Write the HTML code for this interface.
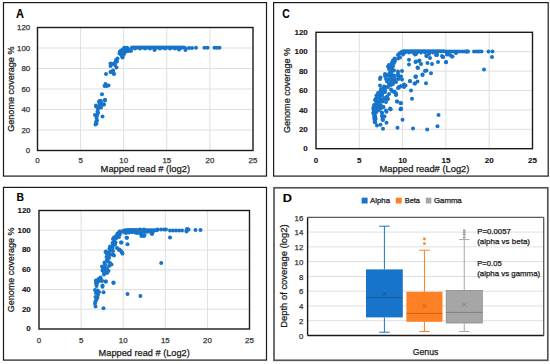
<!DOCTYPE html>
<html><head><meta charset="utf-8"><style>
html,body{margin:0;padding:0;background:#fff;width:550px;height:364px;overflow:hidden}
svg{display:block;font-family:"Liberation Sans",sans-serif}
</style></head><body>
<svg width="550" height="364" viewBox="0 0 550 364">
<rect width="550" height="364" fill="#fff"/>

<rect x="3.5" y="2.6" width="263" height="173.5" fill="none" stroke="#1a1a1a" stroke-width="1.2"/>
<rect x="273.6" y="2.6" width="274.6" height="173.5" fill="none" stroke="#1a1a1a" stroke-width="1.2"/>
<rect x="3.5" y="187.4" width="263" height="172.7" fill="none" stroke="#1a1a1a" stroke-width="1.2"/>
<rect x="274" y="187.8" width="273.8" height="172.5" fill="none" stroke="#555" stroke-width="1.7"/>
<text x="16" y="17.6" font-size="11.9" font-weight="bold" fill="#000" stroke="#000" stroke-width="0.1" textLength="8" lengthAdjust="spacingAndGlyphs">A</text>
<text x="282.3" y="17.9" font-size="12.3" font-weight="bold" fill="#000" stroke="#000" stroke-width="0.1" textLength="7.5" lengthAdjust="spacingAndGlyphs">C</text>
<text x="16.4" y="200.5" font-size="11.6" font-weight="bold" fill="#000" stroke="#000" stroke-width="0.1" textLength="7.5" lengthAdjust="spacingAndGlyphs">B</text>
<text x="282.8" y="201.9" font-size="11" font-weight="bold" fill="#000" stroke="#000" stroke-width="0.1" textLength="9.2" lengthAdjust="spacingAndGlyphs">D</text>
<line x1="80.60" y1="27.5" x2="80.60" y2="150.5" stroke="#dfdfdf" stroke-width="1"/>
<line x1="123.70" y1="27.5" x2="123.70" y2="150.5" stroke="#dfdfdf" stroke-width="1"/>
<line x1="166.80" y1="27.5" x2="166.80" y2="150.5" stroke="#dfdfdf" stroke-width="1"/>
<line x1="209.90" y1="27.5" x2="209.90" y2="150.5" stroke="#dfdfdf" stroke-width="1"/>
<line x1="37.5" y1="130.00" x2="253" y2="130.00" stroke="#dfdfdf" stroke-width="1"/>
<line x1="37.5" y1="109.50" x2="253" y2="109.50" stroke="#dfdfdf" stroke-width="1"/>
<line x1="37.5" y1="89.00" x2="253" y2="89.00" stroke="#dfdfdf" stroke-width="1"/>
<line x1="37.5" y1="68.50" x2="253" y2="68.50" stroke="#dfdfdf" stroke-width="1"/>
<line x1="37.5" y1="48.00" x2="253" y2="48.00" stroke="#dfdfdf" stroke-width="1"/>
<rect x="37.5" y="27.5" width="215.5" height="123.0" fill="none" stroke="#1a1a1a" stroke-width="1.4"/>
<text x="30.2" y="153.20" font-size="7.9" text-anchor="end" fill="#333" stroke="#333" stroke-width="0.25">0</text>
<text x="30.2" y="132.70" font-size="7.9" text-anchor="end" fill="#333" stroke="#333" stroke-width="0.25">20</text>
<text x="30.2" y="112.20" font-size="7.9" text-anchor="end" fill="#333" stroke="#333" stroke-width="0.25">40</text>
<text x="30.2" y="91.70" font-size="7.9" text-anchor="end" fill="#333" stroke="#333" stroke-width="0.25">60</text>
<text x="30.2" y="71.20" font-size="7.9" text-anchor="end" fill="#333" stroke="#333" stroke-width="0.25">80</text>
<text x="30.2" y="50.70" font-size="7.9" text-anchor="end" fill="#333" stroke="#333" stroke-width="0.25">100</text>
<text x="30.2" y="30.20" font-size="7.9" text-anchor="end" fill="#333" stroke="#333" stroke-width="0.25">120</text>
<text x="37.50" y="163.4" font-size="7.9" text-anchor="middle" fill="#333" stroke="#333" stroke-width="0.25">0</text>
<text x="80.60" y="163.4" font-size="7.9" text-anchor="middle" fill="#333" stroke="#333" stroke-width="0.25">5</text>
<text x="123.70" y="163.4" font-size="7.9" text-anchor="middle" fill="#333" stroke="#333" stroke-width="0.25">10</text>
<text x="166.80" y="163.4" font-size="7.9" text-anchor="middle" fill="#333" stroke="#333" stroke-width="0.25">15</text>
<text x="209.90" y="163.4" font-size="7.9" text-anchor="middle" fill="#333" stroke="#333" stroke-width="0.25">20</text>
<text x="253.00" y="163.4" font-size="7.9" text-anchor="middle" fill="#333" stroke="#333" stroke-width="0.25">25</text>
<line x1="359.30" y1="32.3" x2="359.30" y2="148.7" stroke="#dfdfdf" stroke-width="1"/>
<line x1="402.60" y1="32.3" x2="402.60" y2="148.7" stroke="#dfdfdf" stroke-width="1"/>
<line x1="445.90" y1="32.3" x2="445.90" y2="148.7" stroke="#dfdfdf" stroke-width="1"/>
<line x1="489.20" y1="32.3" x2="489.20" y2="148.7" stroke="#dfdfdf" stroke-width="1"/>
<line x1="316" y1="129.30" x2="532.5" y2="129.30" stroke="#dfdfdf" stroke-width="1"/>
<line x1="316" y1="109.90" x2="532.5" y2="109.90" stroke="#dfdfdf" stroke-width="1"/>
<line x1="316" y1="90.50" x2="532.5" y2="90.50" stroke="#dfdfdf" stroke-width="1"/>
<line x1="316" y1="71.10" x2="532.5" y2="71.10" stroke="#dfdfdf" stroke-width="1"/>
<line x1="316" y1="51.70" x2="532.5" y2="51.70" stroke="#dfdfdf" stroke-width="1"/>
<rect x="316" y="32.3" width="216.5" height="116.39999999999999" fill="none" stroke="#1a1a1a" stroke-width="1.4"/>
<text x="307.8" y="151.30" font-size="8" text-anchor="end" font-weight="bold" fill="#111" stroke="#111" stroke-width="0.1">0</text>
<text x="307.8" y="131.90" font-size="8" text-anchor="end" font-weight="bold" fill="#111" stroke="#111" stroke-width="0.1">20</text>
<text x="307.8" y="112.50" font-size="8" text-anchor="end" font-weight="bold" fill="#111" stroke="#111" stroke-width="0.1">40</text>
<text x="307.8" y="93.10" font-size="8" text-anchor="end" font-weight="bold" fill="#111" stroke="#111" stroke-width="0.1">60</text>
<text x="307.8" y="73.70" font-size="8" text-anchor="end" font-weight="bold" fill="#111" stroke="#111" stroke-width="0.1">80</text>
<text x="307.8" y="54.30" font-size="8" text-anchor="end" font-weight="bold" fill="#111" stroke="#111" stroke-width="0.1">100</text>
<text x="307.8" y="34.90" font-size="8" text-anchor="end" font-weight="bold" fill="#111" stroke="#111" stroke-width="0.1">120</text>
<text x="316.00" y="162.9" font-size="8" text-anchor="middle" font-weight="bold" fill="#111" stroke="#111" stroke-width="0.1">0</text>
<text x="359.30" y="162.9" font-size="8" text-anchor="middle" font-weight="bold" fill="#111" stroke="#111" stroke-width="0.1">5</text>
<text x="402.60" y="162.9" font-size="8" text-anchor="middle" font-weight="bold" fill="#111" stroke="#111" stroke-width="0.1">10</text>
<text x="445.90" y="162.9" font-size="8" text-anchor="middle" font-weight="bold" fill="#111" stroke="#111" stroke-width="0.1">15</text>
<text x="489.20" y="162.9" font-size="8" text-anchor="middle" font-weight="bold" fill="#111" stroke="#111" stroke-width="0.1">20</text>
<text x="532.50" y="162.9" font-size="8" text-anchor="middle" font-weight="bold" fill="#111" stroke="#111" stroke-width="0.1">25</text>
<line x1="81.10" y1="210.5" x2="81.10" y2="329" stroke="#dfdfdf" stroke-width="1"/>
<line x1="123.20" y1="210.5" x2="123.20" y2="329" stroke="#dfdfdf" stroke-width="1"/>
<line x1="165.30" y1="210.5" x2="165.30" y2="329" stroke="#dfdfdf" stroke-width="1"/>
<line x1="207.40" y1="210.5" x2="207.40" y2="329" stroke="#dfdfdf" stroke-width="1"/>
<line x1="39" y1="309.25" x2="249.5" y2="309.25" stroke="#dfdfdf" stroke-width="1"/>
<line x1="39" y1="289.50" x2="249.5" y2="289.50" stroke="#dfdfdf" stroke-width="1"/>
<line x1="39" y1="269.75" x2="249.5" y2="269.75" stroke="#dfdfdf" stroke-width="1"/>
<line x1="39" y1="250.00" x2="249.5" y2="250.00" stroke="#dfdfdf" stroke-width="1"/>
<line x1="39" y1="230.25" x2="249.5" y2="230.25" stroke="#dfdfdf" stroke-width="1"/>
<rect x="39" y="210.5" width="210.5" height="118.5" fill="none" stroke="#1a1a1a" stroke-width="1.4"/>
<text x="30.8" y="331.40" font-size="8" text-anchor="end" font-weight="bold" fill="#111" stroke="#111" stroke-width="0.1">0</text>
<text x="30.8" y="311.65" font-size="8" text-anchor="end" font-weight="bold" fill="#111" stroke="#111" stroke-width="0.1">20</text>
<text x="30.8" y="291.90" font-size="8" text-anchor="end" font-weight="bold" fill="#111" stroke="#111" stroke-width="0.1">40</text>
<text x="30.8" y="272.15" font-size="8" text-anchor="end" font-weight="bold" fill="#111" stroke="#111" stroke-width="0.1">60</text>
<text x="30.8" y="252.40" font-size="8" text-anchor="end" font-weight="bold" fill="#111" stroke="#111" stroke-width="0.1">80</text>
<text x="30.8" y="232.65" font-size="8" text-anchor="end" font-weight="bold" fill="#111" stroke="#111" stroke-width="0.1">100</text>
<text x="30.8" y="212.90" font-size="8" text-anchor="end" font-weight="bold" fill="#111" stroke="#111" stroke-width="0.1">120</text>
<text x="39.00" y="343.3" font-size="7.9" text-anchor="middle" fill="#333" stroke="#333" stroke-width="0.25">0</text>
<text x="81.10" y="343.3" font-size="7.9" text-anchor="middle" fill="#333" stroke="#333" stroke-width="0.25">5</text>
<text x="123.20" y="343.3" font-size="7.9" text-anchor="middle" fill="#333" stroke="#333" stroke-width="0.25">10</text>
<text x="165.30" y="343.3" font-size="7.9" text-anchor="middle" fill="#333" stroke="#333" stroke-width="0.25">15</text>
<text x="207.40" y="343.3" font-size="7.9" text-anchor="middle" fill="#333" stroke="#333" stroke-width="0.25">20</text>
<text x="249.50" y="343.3" font-size="7.9" text-anchor="middle" fill="#333" stroke="#333" stroke-width="0.25">25</text>
<text x="100.6" y="172.0" font-size="9.4" fill="#1a1a1a" stroke="#1a1a1a" stroke-width="0.25" textLength="89.4" lengthAdjust="spacingAndGlyphs">Mapped read # (log2)</text>
<text x="379.6" y="171.9" font-size="9.4" fill="#1a1a1a" stroke="#1a1a1a" stroke-width="0.25" textLength="89.8" lengthAdjust="spacingAndGlyphs">Mapped read# (Log2)</text>
<text x="98.6" y="356.0" font-size="9.4" fill="#1a1a1a" stroke="#1a1a1a" stroke-width="0.25" textLength="91.2" lengthAdjust="spacingAndGlyphs">Mapped read # (Log2)</text>
<text x="14.3" y="131.8" font-size="9.6" fill="#1a1a1a" stroke="#1a1a1a" stroke-width="0.25" textLength="85.3" lengthAdjust="spacingAndGlyphs" transform="rotate(-90 14.3 131.8)">Genome coverage %</text>
<text x="289.6" y="133.1" font-size="9.6" fill="#1a1a1a" stroke="#1a1a1a" stroke-width="0.25" textLength="85.2" lengthAdjust="spacingAndGlyphs" transform="rotate(-90 289.6 133.1)">Genome coverage %</text>
<text x="14.3" y="312.3" font-size="9.6" fill="#1a1a1a" stroke="#1a1a1a" stroke-width="0.25" textLength="84.8" lengthAdjust="spacingAndGlyphs" transform="rotate(-90 14.3 312.3)">Genome coverage %</text>
<circle cx="95.5" cy="124.5" r="2" fill="#1874ca"/>
<circle cx="96.5" cy="123.5" r="2" fill="#1874ca"/>
<circle cx="96" cy="122" r="2" fill="#1874ca"/>
<circle cx="97" cy="120.5" r="2" fill="#1874ca"/>
<circle cx="96.5" cy="118" r="2" fill="#1874ca"/>
<circle cx="95" cy="115" r="2" fill="#1874ca"/>
<circle cx="97" cy="115.5" r="2" fill="#1874ca"/>
<circle cx="102.5" cy="116.5" r="2" fill="#1874ca"/>
<circle cx="98" cy="113" r="2" fill="#1874ca"/>
<circle cx="97.5" cy="111.5" r="2" fill="#1874ca"/>
<circle cx="98" cy="109" r="2" fill="#1874ca"/>
<circle cx="96" cy="106.5" r="2" fill="#1874ca"/>
<circle cx="98.5" cy="107" r="2" fill="#1874ca"/>
<circle cx="101" cy="107.5" r="2" fill="#1874ca"/>
<circle cx="100" cy="104" r="2" fill="#1874ca"/>
<circle cx="104" cy="104.5" r="2" fill="#1874ca"/>
<circle cx="99" cy="101.5" r="2" fill="#1874ca"/>
<circle cx="101" cy="101" r="2" fill="#1874ca"/>
<circle cx="105" cy="100.5" r="2" fill="#1874ca"/>
<circle cx="96" cy="105.5" r="2" fill="#1874ca"/>
<circle cx="99.5" cy="103" r="2" fill="#1874ca"/>
<circle cx="101.5" cy="104" r="2" fill="#1874ca"/>
<circle cx="103.5" cy="104.5" r="2" fill="#1874ca"/>
<circle cx="100" cy="101" r="2" fill="#1874ca"/>
<circle cx="105" cy="99.8" r="2" fill="#1874ca"/>
<circle cx="102" cy="94.2" r="2" fill="#1874ca"/>
<circle cx="105.5" cy="84" r="2" fill="#1874ca"/>
<circle cx="104.5" cy="86" r="2" fill="#1874ca"/>
<circle cx="106.5" cy="86" r="2" fill="#1874ca"/>
<circle cx="108.5" cy="85.5" r="2" fill="#1874ca"/>
<circle cx="106" cy="74" r="2" fill="#1874ca"/>
<circle cx="111" cy="72" r="2" fill="#1874ca"/>
<circle cx="113" cy="71" r="2" fill="#1874ca"/>
<circle cx="114" cy="74" r="2" fill="#1874ca"/>
<circle cx="110.5" cy="72" r="2" fill="#1874ca"/>
<circle cx="113" cy="70.5" r="2" fill="#1874ca"/>
<circle cx="113.5" cy="73.5" r="2" fill="#1874ca"/>
<circle cx="110.5" cy="63.5" r="2" fill="#1874ca"/>
<circle cx="110.5" cy="66" r="2" fill="#1874ca"/>
<circle cx="113" cy="64" r="2" fill="#1874ca"/>
<circle cx="115" cy="65" r="2" fill="#1874ca"/>
<circle cx="116.5" cy="67.5" r="2" fill="#1874ca"/>
<circle cx="116" cy="60" r="2" fill="#1874ca"/>
<circle cx="117.5" cy="58.5" r="2" fill="#1874ca"/>
<circle cx="117" cy="61.5" r="2" fill="#1874ca"/>
<circle cx="115" cy="62.5" r="2" fill="#1874ca"/>
<circle cx="120" cy="52.5" r="2" fill="#1874ca"/>
<circle cx="121" cy="54.5" r="2" fill="#1874ca"/>
<circle cx="122.5" cy="57.5" r="2" fill="#1874ca"/>
<circle cx="122" cy="56" r="2" fill="#1874ca"/>
<circle cx="120.5" cy="51" r="2" fill="#1874ca"/>
<circle cx="123" cy="49.5" r="2" fill="#1874ca"/>
<circle cx="124.5" cy="48" r="2" fill="#1874ca"/>
<circle cx="127" cy="48.3" r="2" fill="#1874ca"/>
<circle cx="125.5" cy="50" r="2" fill="#1874ca"/>
<circle cx="127.5" cy="51" r="2" fill="#1874ca"/>
<circle cx="130" cy="50.5" r="2" fill="#1874ca"/>
<circle cx="124" cy="52" r="2" fill="#1874ca"/>
<circle cx="124" cy="54" r="2" fill="#1874ca"/>
<circle cx="124.4" cy="47.8" r="2" fill="#1874ca"/>
<circle cx="126.6" cy="47.9" r="2" fill="#1874ca"/>
<circle cx="127.7" cy="48.3" r="2" fill="#1874ca"/>
<circle cx="125.2" cy="49.2" r="2" fill="#1874ca"/>
<circle cx="123.3" cy="49.5" r="2" fill="#1874ca"/>
<circle cx="121.4" cy="50.5" r="2" fill="#1874ca"/>
<circle cx="119.8" cy="51.8" r="2" fill="#1874ca"/>
<circle cx="119.5" cy="53.4" r="2" fill="#1874ca"/>
<circle cx="121.4" cy="52.7" r="2" fill="#1874ca"/>
<circle cx="123.3" cy="52.1" r="2" fill="#1874ca"/>
<circle cx="125.5" cy="51.8" r="2" fill="#1874ca"/>
<circle cx="128.4" cy="50.8" r="2" fill="#1874ca"/>
<circle cx="130.6" cy="50.5" r="2" fill="#1874ca"/>
<circle cx="122.6" cy="54.6" r="2" fill="#1874ca"/>
<circle cx="122.6" cy="56.6" r="2" fill="#1874ca"/>
<circle cx="154.5" cy="50" r="2" fill="#1874ca"/>
<circle cx="179" cy="49.5" r="2" fill="#1874ca"/>
<circle cx="185.5" cy="50" r="2" fill="#1874ca"/>
<circle cx="131" cy="50.8" r="2" fill="#1874ca"/>
<circle cx="185.5" cy="48.5" r="2" fill="#1874ca"/>
<circle cx="189" cy="48" r="2" fill="#1874ca"/>
<circle cx="192" cy="48" r="2" fill="#1874ca"/>
<circle cx="196" cy="47.7" r="2" fill="#1874ca"/>
<circle cx="204.5" cy="47.7" r="2" fill="#1874ca"/>
<circle cx="207.5" cy="47.7" r="2" fill="#1874ca"/>
<circle cx="214.5" cy="47.7" r="2" fill="#1874ca"/>
<circle cx="217" cy="47.7" r="2" fill="#1874ca"/>
<circle cx="219.5" cy="47.7" r="2" fill="#1874ca"/>
<circle cx="132" cy="47.5" r="2" fill="#1874ca"/>
<circle cx="134" cy="47.5" r="2" fill="#1874ca"/>
<circle cx="136" cy="47.5" r="2" fill="#1874ca"/>
<circle cx="138" cy="47.5" r="2" fill="#1874ca"/>
<circle cx="140" cy="47.5" r="2" fill="#1874ca"/>
<circle cx="142" cy="47.5" r="2" fill="#1874ca"/>
<circle cx="144" cy="47.5" r="2" fill="#1874ca"/>
<circle cx="146" cy="47.5" r="2" fill="#1874ca"/>
<circle cx="148" cy="47.5" r="2" fill="#1874ca"/>
<circle cx="150" cy="47.5" r="2" fill="#1874ca"/>
<circle cx="152" cy="47.5" r="2" fill="#1874ca"/>
<circle cx="154" cy="47.5" r="2" fill="#1874ca"/>
<circle cx="156" cy="47.5" r="2" fill="#1874ca"/>
<circle cx="158" cy="47.5" r="2" fill="#1874ca"/>
<circle cx="160" cy="47.5" r="2" fill="#1874ca"/>
<circle cx="162" cy="47.5" r="2" fill="#1874ca"/>
<circle cx="164" cy="47.5" r="2" fill="#1874ca"/>
<circle cx="166" cy="47.5" r="2" fill="#1874ca"/>
<circle cx="168" cy="47.5" r="2" fill="#1874ca"/>
<circle cx="170" cy="47.5" r="2" fill="#1874ca"/>
<circle cx="172" cy="47.5" r="2" fill="#1874ca"/>
<circle cx="174" cy="47.5" r="2" fill="#1874ca"/>
<circle cx="176" cy="47.5" r="2" fill="#1874ca"/>
<circle cx="178" cy="47.5" r="2" fill="#1874ca"/>
<circle cx="180" cy="47.5" r="2" fill="#1874ca"/>
<circle cx="182" cy="47.5" r="2" fill="#1874ca"/>
<circle cx="184" cy="47.5" r="2" fill="#1874ca"/>
<circle cx="135" cy="48.6" r="2" fill="#1874ca"/>
<circle cx="140" cy="48.6" r="2" fill="#1874ca"/>
<circle cx="145" cy="48.6" r="2" fill="#1874ca"/>
<circle cx="150" cy="48.6" r="2" fill="#1874ca"/>
<circle cx="155" cy="48.6" r="2" fill="#1874ca"/>
<circle cx="160" cy="48.6" r="2" fill="#1874ca"/>
<circle cx="165" cy="48.6" r="2" fill="#1874ca"/>
<circle cx="170" cy="48.6" r="2" fill="#1874ca"/>
<circle cx="175" cy="48.6" r="2" fill="#1874ca"/>
<circle cx="180" cy="48.6" r="2" fill="#1874ca"/>
<circle cx="399.5" cy="53.5" r="2" fill="#1874ca"/>
<circle cx="402" cy="52" r="2" fill="#1874ca"/>
<circle cx="403" cy="54.5" r="2" fill="#1874ca"/>
<circle cx="416" cy="54" r="2" fill="#1874ca"/>
<circle cx="400" cy="57.5" r="2" fill="#1874ca"/>
<circle cx="398" cy="58.5" r="2" fill="#1874ca"/>
<circle cx="394.5" cy="58.5" r="2" fill="#1874ca"/>
<circle cx="393" cy="60.5" r="2" fill="#1874ca"/>
<circle cx="395" cy="61" r="2" fill="#1874ca"/>
<circle cx="392" cy="62.5" r="2" fill="#1874ca"/>
<circle cx="394" cy="63" r="2" fill="#1874ca"/>
<circle cx="389" cy="65" r="2" fill="#1874ca"/>
<circle cx="391" cy="65" r="2" fill="#1874ca"/>
<circle cx="388" cy="66.5" r="2" fill="#1874ca"/>
<circle cx="391" cy="67" r="2" fill="#1874ca"/>
<circle cx="393" cy="66" r="2" fill="#1874ca"/>
<circle cx="389" cy="69" r="2" fill="#1874ca"/>
<circle cx="392.5" cy="69" r="2" fill="#1874ca"/>
<circle cx="394" cy="70.5" r="2" fill="#1874ca"/>
<circle cx="391.5" cy="71.5" r="2" fill="#1874ca"/>
<circle cx="398" cy="71.5" r="2" fill="#1874ca"/>
<circle cx="402" cy="71" r="2" fill="#1874ca"/>
<circle cx="389.5" cy="73" r="2" fill="#1874ca"/>
<circle cx="385" cy="74" r="2" fill="#1874ca"/>
<circle cx="386.5" cy="75" r="2" fill="#1874ca"/>
<circle cx="391.5" cy="74.5" r="2" fill="#1874ca"/>
<circle cx="394" cy="75.5" r="2" fill="#1874ca"/>
<circle cx="398" cy="74" r="2" fill="#1874ca"/>
<circle cx="399.5" cy="76.5" r="2" fill="#1874ca"/>
<circle cx="380.5" cy="77.5" r="2" fill="#1874ca"/>
<circle cx="409" cy="59.8" r="2" fill="#1874ca"/>
<circle cx="409" cy="64.5" r="2" fill="#1874ca"/>
<circle cx="415.5" cy="62" r="2" fill="#1874ca"/>
<circle cx="419" cy="61" r="2" fill="#1874ca"/>
<circle cx="417.5" cy="67.5" r="2" fill="#1874ca"/>
<circle cx="415.5" cy="76.5" r="2" fill="#1874ca"/>
<circle cx="426.5" cy="56" r="2" fill="#1874ca"/>
<circle cx="430" cy="58" r="2" fill="#1874ca"/>
<circle cx="429" cy="54" r="2" fill="#1874ca"/>
<circle cx="437" cy="55" r="2" fill="#1874ca"/>
<circle cx="443" cy="57" r="2" fill="#1874ca"/>
<circle cx="447" cy="54.5" r="2" fill="#1874ca"/>
<circle cx="452" cy="56.5" r="2" fill="#1874ca"/>
<circle cx="456" cy="53" r="2" fill="#1874ca"/>
<circle cx="416" cy="61.5" r="2" fill="#1874ca"/>
<circle cx="419.5" cy="60.5" r="2" fill="#1874ca"/>
<circle cx="421" cy="64" r="2" fill="#1874ca"/>
<circle cx="427.5" cy="63" r="2" fill="#1874ca"/>
<circle cx="432" cy="64" r="2" fill="#1874ca"/>
<circle cx="438" cy="62" r="2" fill="#1874ca"/>
<circle cx="446" cy="62" r="2" fill="#1874ca"/>
<circle cx="418" cy="68" r="2" fill="#1874ca"/>
<circle cx="425" cy="71" r="2" fill="#1874ca"/>
<circle cx="426.5" cy="70.5" r="2" fill="#1874ca"/>
<circle cx="422.5" cy="74.5" r="2" fill="#1874ca"/>
<circle cx="431" cy="73.2" r="2" fill="#1874ca"/>
<circle cx="416" cy="76.5" r="2" fill="#1874ca"/>
<circle cx="474" cy="51.5" r="2" fill="#1874ca"/>
<circle cx="476.5" cy="51.5" r="2" fill="#1874ca"/>
<circle cx="479" cy="51.5" r="2" fill="#1874ca"/>
<circle cx="481.5" cy="51.5" r="2" fill="#1874ca"/>
<circle cx="488.5" cy="51.5" r="2" fill="#1874ca"/>
<circle cx="492.5" cy="51.5" r="2" fill="#1874ca"/>
<circle cx="492" cy="57" r="2" fill="#1874ca"/>
<circle cx="484" cy="69.5" r="2" fill="#1874ca"/>
<circle cx="466.5" cy="51.5" r="2" fill="#1874ca"/>
<circle cx="468" cy="51.5" r="2" fill="#1874ca"/>
<circle cx="456" cy="52.5" r="2" fill="#1874ca"/>
<circle cx="447" cy="53.5" r="2" fill="#1874ca"/>
<circle cx="450" cy="55" r="2" fill="#1874ca"/>
<circle cx="443" cy="57" r="2" fill="#1874ca"/>
<circle cx="452.5" cy="56.5" r="2" fill="#1874ca"/>
<circle cx="446" cy="62.2" r="2" fill="#1874ca"/>
<circle cx="415" cy="54.5" r="2" fill="#1874ca"/>
<circle cx="426.5" cy="56" r="2" fill="#1874ca"/>
<circle cx="436" cy="55" r="2" fill="#1874ca"/>
<circle cx="442" cy="56" r="2" fill="#1874ca"/>
<circle cx="380" cy="79" r="2" fill="#1874ca"/>
<circle cx="385" cy="76" r="2" fill="#1874ca"/>
<circle cx="388" cy="75.5" r="2" fill="#1874ca"/>
<circle cx="391" cy="76" r="2" fill="#1874ca"/>
<circle cx="394" cy="76" r="2" fill="#1874ca"/>
<circle cx="398" cy="76" r="2" fill="#1874ca"/>
<circle cx="401" cy="76.5" r="2" fill="#1874ca"/>
<circle cx="386" cy="79" r="2" fill="#1874ca"/>
<circle cx="389" cy="79" r="2" fill="#1874ca"/>
<circle cx="392" cy="78.5" r="2" fill="#1874ca"/>
<circle cx="395" cy="79" r="2" fill="#1874ca"/>
<circle cx="398.5" cy="79" r="2" fill="#1874ca"/>
<circle cx="402" cy="79.5" r="2" fill="#1874ca"/>
<circle cx="387" cy="81.5" r="2" fill="#1874ca"/>
<circle cx="391" cy="81.5" r="2" fill="#1874ca"/>
<circle cx="394" cy="81" r="2" fill="#1874ca"/>
<circle cx="410" cy="81" r="2" fill="#1874ca"/>
<circle cx="414.5" cy="83.5" r="2" fill="#1874ca"/>
<circle cx="380" cy="85.5" r="2" fill="#1874ca"/>
<circle cx="384" cy="86.5" r="2" fill="#1874ca"/>
<circle cx="388" cy="87" r="2" fill="#1874ca"/>
<circle cx="391" cy="85" r="2" fill="#1874ca"/>
<circle cx="393" cy="84" r="2" fill="#1874ca"/>
<circle cx="399" cy="87" r="2" fill="#1874ca"/>
<circle cx="401" cy="86" r="2" fill="#1874ca"/>
<circle cx="404" cy="84.5" r="2" fill="#1874ca"/>
<circle cx="404" cy="87" r="2" fill="#1874ca"/>
<circle cx="398" cy="88" r="2" fill="#1874ca"/>
<circle cx="381" cy="89" r="2" fill="#1874ca"/>
<circle cx="385" cy="90" r="2" fill="#1874ca"/>
<circle cx="391" cy="89.5" r="2" fill="#1874ca"/>
<circle cx="392" cy="91" r="2" fill="#1874ca"/>
<circle cx="394.5" cy="91.5" r="2" fill="#1874ca"/>
<circle cx="396" cy="93.5" r="2" fill="#1874ca"/>
<circle cx="396" cy="95" r="2" fill="#1874ca"/>
<circle cx="411" cy="90.5" r="2" fill="#1874ca"/>
<circle cx="380" cy="92" r="2" fill="#1874ca"/>
<circle cx="384" cy="92" r="2" fill="#1874ca"/>
<circle cx="389" cy="94" r="2" fill="#1874ca"/>
<circle cx="387" cy="96.5" r="2" fill="#1874ca"/>
<circle cx="376.5" cy="95.5" r="2" fill="#1874ca"/>
<circle cx="379" cy="95" r="2" fill="#1874ca"/>
<circle cx="382" cy="95" r="2" fill="#1874ca"/>
<circle cx="376" cy="98.5" r="2" fill="#1874ca"/>
<circle cx="380" cy="98.5" r="2" fill="#1874ca"/>
<circle cx="384" cy="98" r="2" fill="#1874ca"/>
<circle cx="388" cy="99" r="2" fill="#1874ca"/>
<circle cx="412" cy="98.8" r="2" fill="#1874ca"/>
<circle cx="376" cy="101" r="2" fill="#1874ca"/>
<circle cx="379" cy="101.5" r="2" fill="#1874ca"/>
<circle cx="382.5" cy="101.5" r="2" fill="#1874ca"/>
<circle cx="386" cy="102" r="2" fill="#1874ca"/>
<circle cx="397" cy="101.5" r="2" fill="#1874ca"/>
<circle cx="400.5" cy="103" r="2" fill="#1874ca"/>
<circle cx="374.7" cy="105" r="2" fill="#1874ca"/>
<circle cx="377" cy="104.5" r="2" fill="#1874ca"/>
<circle cx="380.5" cy="105" r="2" fill="#1874ca"/>
<circle cx="383.5" cy="107" r="2" fill="#1874ca"/>
<circle cx="375.2" cy="109" r="2" fill="#1874ca"/>
<circle cx="378" cy="108" r="2" fill="#1874ca"/>
<circle cx="390" cy="108.5" r="2" fill="#1874ca"/>
<circle cx="401" cy="108.5" r="2" fill="#1874ca"/>
<circle cx="386" cy="110.5" r="2" fill="#1874ca"/>
<circle cx="374.2" cy="106" r="2" fill="#1874ca"/>
<circle cx="376" cy="106" r="2" fill="#1874ca"/>
<circle cx="379.5" cy="106" r="2" fill="#1874ca"/>
<circle cx="383" cy="107" r="2" fill="#1874ca"/>
<circle cx="377.5" cy="108.5" r="2" fill="#1874ca"/>
<circle cx="381" cy="108" r="2" fill="#1874ca"/>
<circle cx="390.5" cy="109.2" r="2" fill="#1874ca"/>
<circle cx="400.5" cy="109.2" r="2" fill="#1874ca"/>
<circle cx="386.5" cy="111.8" r="2" fill="#1874ca"/>
<circle cx="374.2" cy="112" r="2" fill="#1874ca"/>
<circle cx="376.5" cy="112" r="2" fill="#1874ca"/>
<circle cx="382" cy="113" r="2" fill="#1874ca"/>
<circle cx="374.7" cy="115" r="2" fill="#1874ca"/>
<circle cx="384" cy="116.5" r="2" fill="#1874ca"/>
<circle cx="375.2" cy="118" r="2" fill="#1874ca"/>
<circle cx="382.5" cy="119.5" r="2" fill="#1874ca"/>
<circle cx="402.5" cy="119.8" r="2" fill="#1874ca"/>
<circle cx="374.7" cy="121" r="2" fill="#1874ca"/>
<circle cx="375.2" cy="122.5" r="2" fill="#1874ca"/>
<circle cx="386.5" cy="122.8" r="2" fill="#1874ca"/>
<circle cx="377" cy="125.5" r="2" fill="#1874ca"/>
<circle cx="380.5" cy="124.8" r="2" fill="#1874ca"/>
<circle cx="383" cy="128.8" r="2" fill="#1874ca"/>
<circle cx="397.5" cy="127.8" r="2" fill="#1874ca"/>
<circle cx="413" cy="128.5" r="2" fill="#1874ca"/>
<circle cx="374.2" cy="116" r="2" fill="#1874ca"/>
<circle cx="375" cy="116" r="2" fill="#1874ca"/>
<circle cx="382" cy="116" r="2" fill="#1874ca"/>
<circle cx="384.5" cy="116.5" r="2" fill="#1874ca"/>
<circle cx="375.7" cy="119" r="2" fill="#1874ca"/>
<circle cx="374.7" cy="122" r="2" fill="#1874ca"/>
<circle cx="383" cy="120" r="2" fill="#1874ca"/>
<circle cx="415.5" cy="77" r="2" fill="#1874ca"/>
<circle cx="422.5" cy="75" r="2" fill="#1874ca"/>
<circle cx="410" cy="81.2" r="2" fill="#1874ca"/>
<circle cx="415" cy="83.5" r="2" fill="#1874ca"/>
<circle cx="417.5" cy="81.5" r="2" fill="#1874ca"/>
<circle cx="426" cy="83.2" r="2" fill="#1874ca"/>
<circle cx="405.5" cy="85.5" r="2" fill="#1874ca"/>
<circle cx="438.5" cy="115" r="2" fill="#1874ca"/>
<circle cx="437.5" cy="126.2" r="2" fill="#1874ca"/>
<circle cx="427.2" cy="129.5" r="2" fill="#1874ca"/>
<circle cx="399" cy="87.5" r="2" fill="#1874ca"/>
<circle cx="404" cy="85.5" r="2" fill="#1874ca"/>
<circle cx="396" cy="94.5" r="2" fill="#1874ca"/>
<circle cx="394" cy="92" r="2" fill="#1874ca"/>
<circle cx="397" cy="101.5" r="2" fill="#1874ca"/>
<circle cx="401" cy="103.2" r="2" fill="#1874ca"/>
<circle cx="401" cy="109.2" r="2" fill="#1874ca"/>
<circle cx="390.5" cy="109.2" r="2" fill="#1874ca"/>
<circle cx="375" cy="100" r="2" fill="#1874ca"/>
<circle cx="377" cy="98" r="2" fill="#1874ca"/>
<circle cx="380" cy="96" r="2" fill="#1874ca"/>
<circle cx="382" cy="94" r="2" fill="#1874ca"/>
<circle cx="385" cy="92" r="2" fill="#1874ca"/>
<circle cx="374.2" cy="105" r="2" fill="#1874ca"/>
<circle cx="376" cy="104" r="2" fill="#1874ca"/>
<circle cx="379" cy="102" r="2" fill="#1874ca"/>
<circle cx="382" cy="100" r="2" fill="#1874ca"/>
<circle cx="385" cy="99" r="2" fill="#1874ca"/>
<circle cx="373.2" cy="108" r="2" fill="#1874ca"/>
<circle cx="375" cy="108" r="2" fill="#1874ca"/>
<circle cx="378" cy="107" r="2" fill="#1874ca"/>
<circle cx="381" cy="106" r="2" fill="#1874ca"/>
<circle cx="374.2" cy="111" r="2" fill="#1874ca"/>
<circle cx="376" cy="111" r="2" fill="#1874ca"/>
<circle cx="379" cy="110" r="2" fill="#1874ca"/>
<circle cx="374.2" cy="114" r="2" fill="#1874ca"/>
<circle cx="375.2" cy="117" r="2" fill="#1874ca"/>
<circle cx="378" cy="93" r="2" fill="#1874ca"/>
<circle cx="381" cy="91" r="2" fill="#1874ca"/>
<circle cx="383" cy="89" r="2" fill="#1874ca"/>
<circle cx="386" cy="87" r="2" fill="#1874ca"/>
<circle cx="389" cy="84" r="2" fill="#1874ca"/>
<circle cx="392" cy="83" r="2" fill="#1874ca"/>
<circle cx="396" cy="82" r="2" fill="#1874ca"/>
<circle cx="373.7" cy="110" r="2" fill="#1874ca"/>
<circle cx="373.2" cy="113" r="2" fill="#1874ca"/>
<circle cx="374.2" cy="118.5" r="2" fill="#1874ca"/>
<circle cx="404" cy="51.2" r="2" fill="#1874ca"/>
<circle cx="406" cy="51.2" r="2" fill="#1874ca"/>
<circle cx="408" cy="51.2" r="2" fill="#1874ca"/>
<circle cx="410" cy="51.2" r="2" fill="#1874ca"/>
<circle cx="412" cy="51.2" r="2" fill="#1874ca"/>
<circle cx="414" cy="51.2" r="2" fill="#1874ca"/>
<circle cx="416" cy="51.2" r="2" fill="#1874ca"/>
<circle cx="418" cy="51.2" r="2" fill="#1874ca"/>
<circle cx="420" cy="51.2" r="2" fill="#1874ca"/>
<circle cx="422" cy="51.2" r="2" fill="#1874ca"/>
<circle cx="424" cy="51.2" r="2" fill="#1874ca"/>
<circle cx="426" cy="51.2" r="2" fill="#1874ca"/>
<circle cx="428" cy="51.2" r="2" fill="#1874ca"/>
<circle cx="430" cy="51.2" r="2" fill="#1874ca"/>
<circle cx="432" cy="51.2" r="2" fill="#1874ca"/>
<circle cx="434" cy="51.2" r="2" fill="#1874ca"/>
<circle cx="436" cy="51.2" r="2" fill="#1874ca"/>
<circle cx="438" cy="51.2" r="2" fill="#1874ca"/>
<circle cx="440" cy="51.2" r="2" fill="#1874ca"/>
<circle cx="442" cy="51.2" r="2" fill="#1874ca"/>
<circle cx="444" cy="51.2" r="2" fill="#1874ca"/>
<circle cx="399.5" cy="53.5" r="2" fill="#1874ca"/>
<circle cx="401.5" cy="52.3" r="2" fill="#1874ca"/>
<circle cx="403" cy="51.6" r="2" fill="#1874ca"/>
<circle cx="398" cy="55" r="2" fill="#1874ca"/>
<circle cx="405" cy="52.6" r="2" fill="#1874ca"/>
<circle cx="409" cy="52.6" r="2" fill="#1874ca"/>
<circle cx="413" cy="52.6" r="2" fill="#1874ca"/>
<circle cx="417" cy="52.6" r="2" fill="#1874ca"/>
<circle cx="421" cy="52.6" r="2" fill="#1874ca"/>
<circle cx="425" cy="52.6" r="2" fill="#1874ca"/>
<circle cx="429" cy="52.6" r="2" fill="#1874ca"/>
<circle cx="433" cy="52.6" r="2" fill="#1874ca"/>
<circle cx="437" cy="52.6" r="2" fill="#1874ca"/>
<circle cx="446.5" cy="51.4" r="2" fill="#1874ca"/>
<circle cx="449" cy="51.4" r="2" fill="#1874ca"/>
<circle cx="451.5" cy="51.4" r="2" fill="#1874ca"/>
<circle cx="454.5" cy="51.4" r="2" fill="#1874ca"/>
<circle cx="457" cy="51.4" r="2" fill="#1874ca"/>
<circle cx="459.5" cy="51.4" r="2" fill="#1874ca"/>
<circle cx="462.5" cy="51.4" r="2" fill="#1874ca"/>
<circle cx="465" cy="51.4" r="2" fill="#1874ca"/>
<circle cx="467.5" cy="51.4" r="2" fill="#1874ca"/>
<circle cx="381.8" cy="112.6" r="2" fill="#1874ca"/>
<circle cx="382.3" cy="116.4" r="2" fill="#1874ca"/>
<circle cx="119.5" cy="231.5" r="2" fill="#1874ca"/>
<circle cx="124" cy="232" r="2" fill="#1874ca"/>
<circle cx="127" cy="230.5" r="2" fill="#1874ca"/>
<circle cx="130" cy="230" r="2" fill="#1874ca"/>
<circle cx="133" cy="230" r="2" fill="#1874ca"/>
<circle cx="136" cy="230" r="2" fill="#1874ca"/>
<circle cx="140" cy="229.5" r="2" fill="#1874ca"/>
<circle cx="144" cy="229.5" r="2" fill="#1874ca"/>
<circle cx="126" cy="233" r="2" fill="#1874ca"/>
<circle cx="129" cy="232.5" r="2" fill="#1874ca"/>
<circle cx="132" cy="232" r="2" fill="#1874ca"/>
<circle cx="135" cy="232.5" r="2" fill="#1874ca"/>
<circle cx="138" cy="232.5" r="2" fill="#1874ca"/>
<circle cx="141.5" cy="235" r="2" fill="#1874ca"/>
<circle cx="144.5" cy="235" r="2" fill="#1874ca"/>
<circle cx="120" cy="234" r="2" fill="#1874ca"/>
<circle cx="118" cy="235.5" r="2" fill="#1874ca"/>
<circle cx="116" cy="236" r="2" fill="#1874ca"/>
<circle cx="114" cy="237.5" r="2" fill="#1874ca"/>
<circle cx="113" cy="239" r="2" fill="#1874ca"/>
<circle cx="116" cy="238.5" r="2" fill="#1874ca"/>
<circle cx="119" cy="237" r="2" fill="#1874ca"/>
<circle cx="127" cy="237.8" r="2" fill="#1874ca"/>
<circle cx="114" cy="241" r="2" fill="#1874ca"/>
<circle cx="112.5" cy="243" r="2" fill="#1874ca"/>
<circle cx="115.5" cy="242.5" r="2" fill="#1874ca"/>
<circle cx="121.5" cy="242.5" r="2" fill="#1874ca"/>
<circle cx="127.5" cy="244.3" r="2" fill="#1874ca"/>
<circle cx="110" cy="246.5" r="2" fill="#1874ca"/>
<circle cx="113" cy="245.5" r="2" fill="#1874ca"/>
<circle cx="115" cy="244.5" r="2" fill="#1874ca"/>
<circle cx="109.5" cy="248.5" r="2" fill="#1874ca"/>
<circle cx="112.5" cy="248" r="2" fill="#1874ca"/>
<circle cx="117" cy="248" r="2" fill="#1874ca"/>
<circle cx="119" cy="250" r="2" fill="#1874ca"/>
<circle cx="122" cy="252.5" r="2" fill="#1874ca"/>
<circle cx="105.5" cy="252" r="2" fill="#1874ca"/>
<circle cx="108" cy="253" r="2" fill="#1874ca"/>
<circle cx="110" cy="254.5" r="2" fill="#1874ca"/>
<circle cx="113" cy="254.5" r="2" fill="#1874ca"/>
<circle cx="106" cy="251.5" r="2" fill="#1874ca"/>
<circle cx="110" cy="251" r="2" fill="#1874ca"/>
<circle cx="113" cy="251" r="2" fill="#1874ca"/>
<circle cx="121" cy="251" r="2" fill="#1874ca"/>
<circle cx="122.5" cy="253.5" r="2" fill="#1874ca"/>
<circle cx="114" cy="255.5" r="2" fill="#1874ca"/>
<circle cx="107" cy="254" r="2" fill="#1874ca"/>
<circle cx="110" cy="255" r="2" fill="#1874ca"/>
<circle cx="106.5" cy="257" r="2" fill="#1874ca"/>
<circle cx="109" cy="258" r="2" fill="#1874ca"/>
<circle cx="107" cy="260" r="2" fill="#1874ca"/>
<circle cx="108" cy="261.5" r="2" fill="#1874ca"/>
<circle cx="104.5" cy="262.5" r="2" fill="#1874ca"/>
<circle cx="110" cy="263" r="2" fill="#1874ca"/>
<circle cx="105" cy="264.5" r="2" fill="#1874ca"/>
<circle cx="111.5" cy="264.5" r="2" fill="#1874ca"/>
<circle cx="109" cy="266" r="2" fill="#1874ca"/>
<circle cx="102" cy="266.5" r="2" fill="#1874ca"/>
<circle cx="105" cy="267" r="2" fill="#1874ca"/>
<circle cx="103" cy="268.5" r="2" fill="#1874ca"/>
<circle cx="107" cy="269" r="2" fill="#1874ca"/>
<circle cx="102.5" cy="270.5" r="2" fill="#1874ca"/>
<circle cx="105.5" cy="270.5" r="2" fill="#1874ca"/>
<circle cx="108.5" cy="271" r="2" fill="#1874ca"/>
<circle cx="104" cy="272.5" r="2" fill="#1874ca"/>
<circle cx="107" cy="273" r="2" fill="#1874ca"/>
<circle cx="104" cy="274.5" r="2" fill="#1874ca"/>
<circle cx="100.5" cy="277.5" r="2" fill="#1874ca"/>
<circle cx="98.5" cy="279" r="2" fill="#1874ca"/>
<circle cx="96" cy="280.5" r="2" fill="#1874ca"/>
<circle cx="97.5" cy="282" r="2" fill="#1874ca"/>
<circle cx="96" cy="283.5" r="2" fill="#1874ca"/>
<circle cx="101.5" cy="280" r="2" fill="#1874ca"/>
<circle cx="105.5" cy="281.5" r="2" fill="#1874ca"/>
<circle cx="113.5" cy="282.5" r="2" fill="#1874ca"/>
<circle cx="102.5" cy="285.5" r="2" fill="#1874ca"/>
<circle cx="96" cy="281" r="2" fill="#1874ca"/>
<circle cx="99" cy="281" r="2" fill="#1874ca"/>
<circle cx="102" cy="281" r="2" fill="#1874ca"/>
<circle cx="106" cy="281.5" r="2" fill="#1874ca"/>
<circle cx="113.5" cy="283" r="2" fill="#1874ca"/>
<circle cx="97" cy="283.5" r="2" fill="#1874ca"/>
<circle cx="96.5" cy="286" r="2" fill="#1874ca"/>
<circle cx="102.5" cy="286.8" r="2" fill="#1874ca"/>
<circle cx="95" cy="290" r="2" fill="#1874ca"/>
<circle cx="97.5" cy="290.5" r="2" fill="#1874ca"/>
<circle cx="99" cy="292" r="2" fill="#1874ca"/>
<circle cx="103.5" cy="292.2" r="2" fill="#1874ca"/>
<circle cx="96" cy="293" r="2" fill="#1874ca"/>
<circle cx="98" cy="294.5" r="2" fill="#1874ca"/>
<circle cx="127.5" cy="294" r="2" fill="#1874ca"/>
<circle cx="95.5" cy="297" r="2" fill="#1874ca"/>
<circle cx="97.5" cy="297.5" r="2" fill="#1874ca"/>
<circle cx="96.5" cy="299.5" r="2" fill="#1874ca"/>
<circle cx="95.5" cy="301.5" r="2" fill="#1874ca"/>
<circle cx="95" cy="303.5" r="2" fill="#1874ca"/>
<circle cx="95.5" cy="306.5" r="2" fill="#1874ca"/>
<circle cx="103.5" cy="308.2" r="2" fill="#1874ca"/>
<circle cx="140.4" cy="296" r="2" fill="#1874ca"/>
<circle cx="161.2" cy="262.9" r="2" fill="#1874ca"/>
<circle cx="157.5" cy="229.5" r="2" fill="#1874ca"/>
<circle cx="161" cy="229.5" r="2" fill="#1874ca"/>
<circle cx="164" cy="229.5" r="2" fill="#1874ca"/>
<circle cx="166" cy="229.5" r="2" fill="#1874ca"/>
<circle cx="170" cy="230.5" r="2" fill="#1874ca"/>
<circle cx="173" cy="230.5" r="2" fill="#1874ca"/>
<circle cx="176" cy="230.5" r="2" fill="#1874ca"/>
<circle cx="179" cy="230.5" r="2" fill="#1874ca"/>
<circle cx="182" cy="230.5" r="2" fill="#1874ca"/>
<circle cx="186.5" cy="230.5" r="2" fill="#1874ca"/>
<circle cx="187" cy="229" r="2" fill="#1874ca"/>
<circle cx="141" cy="234" r="2" fill="#1874ca"/>
<circle cx="144" cy="236" r="2" fill="#1874ca"/>
<circle cx="152" cy="234" r="2" fill="#1874ca"/>
<circle cx="151" cy="232" r="2" fill="#1874ca"/>
<circle cx="170" cy="237.5" r="2" fill="#1874ca"/>
<circle cx="137" cy="233" r="2" fill="#1874ca"/>
<circle cx="186.5" cy="231.5" r="2" fill="#1874ca"/>
<circle cx="188.5" cy="229.5" r="2" fill="#1874ca"/>
<circle cx="195.5" cy="230" r="2" fill="#1874ca"/>
<circle cx="200.5" cy="230" r="2" fill="#1874ca"/>
<circle cx="141.5" cy="236" r="2" fill="#1874ca"/>
<circle cx="152" cy="233" r="2" fill="#1874ca"/>
<circle cx="126.5" cy="237.8" r="2" fill="#1874ca"/>
<circle cx="121" cy="242.5" r="2" fill="#1874ca"/>
<circle cx="119.5" cy="249.5" r="2" fill="#1874ca"/>
<circle cx="125" cy="230.3" r="2" fill="#1874ca"/>
<circle cx="127" cy="230.3" r="2" fill="#1874ca"/>
<circle cx="129" cy="230.3" r="2" fill="#1874ca"/>
<circle cx="131" cy="230.3" r="2" fill="#1874ca"/>
<circle cx="133" cy="230.3" r="2" fill="#1874ca"/>
<circle cx="135" cy="230.3" r="2" fill="#1874ca"/>
<circle cx="137" cy="230.3" r="2" fill="#1874ca"/>
<circle cx="139" cy="230.3" r="2" fill="#1874ca"/>
<circle cx="141" cy="230.3" r="2" fill="#1874ca"/>
<circle cx="143" cy="230.3" r="2" fill="#1874ca"/>
<circle cx="145" cy="230.3" r="2" fill="#1874ca"/>
<circle cx="147" cy="230.3" r="2" fill="#1874ca"/>
<circle cx="149" cy="230.3" r="2" fill="#1874ca"/>
<circle cx="151" cy="230.3" r="2" fill="#1874ca"/>
<circle cx="153" cy="230.3" r="2" fill="#1874ca"/>
<circle cx="155" cy="230.3" r="2" fill="#1874ca"/>
<circle cx="157" cy="230.3" r="2" fill="#1874ca"/>
<circle cx="126" cy="231.8" r="2" fill="#1874ca"/>
<circle cx="129" cy="231.8" r="2" fill="#1874ca"/>
<circle cx="132" cy="231.8" r="2" fill="#1874ca"/>
<circle cx="135" cy="231.8" r="2" fill="#1874ca"/>
<circle cx="138" cy="231.8" r="2" fill="#1874ca"/>
<circle cx="141" cy="231.8" r="2" fill="#1874ca"/>
<circle cx="144" cy="231.8" r="2" fill="#1874ca"/>
<circle cx="147" cy="231.8" r="2" fill="#1874ca"/>
<circle cx="150" cy="231.8" r="2" fill="#1874ca"/>
<circle cx="153" cy="231.8" r="2" fill="#1874ca"/>
<circle cx="121.5" cy="231.6" r="2" fill="#1874ca"/>
<circle cx="123.2" cy="230.9" r="2" fill="#1874ca"/>
<circle cx="117.5" cy="233.5" r="2" fill="#1874ca"/>
<line x1="307.6" y1="320.73" x2="543.7" y2="320.73" stroke="#dfdfdf" stroke-width="1"/>
<line x1="307.6" y1="305.95" x2="543.7" y2="305.95" stroke="#dfdfdf" stroke-width="1"/>
<line x1="307.6" y1="291.18" x2="543.7" y2="291.18" stroke="#dfdfdf" stroke-width="1"/>
<line x1="307.6" y1="276.40" x2="543.7" y2="276.40" stroke="#dfdfdf" stroke-width="1"/>
<line x1="307.6" y1="261.62" x2="543.7" y2="261.62" stroke="#dfdfdf" stroke-width="1"/>
<line x1="307.6" y1="246.85" x2="543.7" y2="246.85" stroke="#dfdfdf" stroke-width="1"/>
<line x1="307.6" y1="232.08" x2="543.7" y2="232.08" stroke="#dfdfdf" stroke-width="1"/>
<line x1="307.6" y1="217.3" x2="543.7" y2="217.3" stroke="#595959" stroke-width="1.3"/>
<line x1="543.7" y1="217.3" x2="543.7" y2="335.5" stroke="#595959" stroke-width="1.3"/>
<line x1="307.6" y1="217.3" x2="307.6" y2="335.5" stroke="#1a1a1a" stroke-width="1.4"/>
<line x1="307.6" y1="335.5" x2="543.7" y2="335.5" stroke="#1a1a1a" stroke-width="1.4"/>
<text x="303.4" y="338.80" font-size="7.9" text-anchor="end" fill="#333" stroke="#333" stroke-width="0.25">0</text>
<text x="303.4" y="324.03" font-size="7.9" text-anchor="end" fill="#333" stroke="#333" stroke-width="0.25">2</text>
<text x="303.4" y="309.25" font-size="7.9" text-anchor="end" fill="#333" stroke="#333" stroke-width="0.25">4</text>
<text x="303.4" y="294.48" font-size="7.9" text-anchor="end" fill="#333" stroke="#333" stroke-width="0.25">6</text>
<text x="303.4" y="279.70" font-size="7.9" text-anchor="end" fill="#333" stroke="#333" stroke-width="0.25">8</text>
<text x="303.4" y="264.93" font-size="7.9" text-anchor="end" fill="#333" stroke="#333" stroke-width="0.25">10</text>
<text x="303.4" y="250.15" font-size="7.9" text-anchor="end" fill="#333" stroke="#333" stroke-width="0.25">12</text>
<text x="303.4" y="235.38" font-size="7.9" text-anchor="end" fill="#333" stroke="#333" stroke-width="0.25">14</text>
<text x="303.4" y="220.60" font-size="7.9" text-anchor="end" fill="#333" stroke="#333" stroke-width="0.25">16</text>
<text x="287.4" y="327.7" font-size="9.6" fill="#1a1a1a" stroke="#1a1a1a" stroke-width="0.25" textLength="103.3" lengthAdjust="spacingAndGlyphs" transform="rotate(-90 287.4 327.7)">Depth of coverage (log2)</text>
<text x="412.7" y="354.5" font-size="9.4" fill="#1a1a1a" stroke="#1a1a1a" stroke-width="0.25" textLength="25.7" lengthAdjust="spacingAndGlyphs">Genus</text>
<rect x="361.6" y="197.7" width="6" height="5.8" fill="#1874ca"/>
<text x="370" y="203.3" font-size="7.2" fill="#1a1a1a" stroke="#1a1a1a" stroke-width="0.25" textLength="20" lengthAdjust="spacingAndGlyphs">Alpha</text>
<rect x="395.8" y="197.7" width="5.9" height="5.8" fill="#fd8024"/>
<text x="404.7" y="203.3" font-size="7.2" fill="#1a1a1a" stroke="#1a1a1a" stroke-width="0.25" textLength="15.3" lengthAdjust="spacingAndGlyphs">Beta</text>
<rect x="425.8" y="197.7" width="5.6" height="5.8" fill="#a6a6a6"/>
<text x="434" y="203.3" font-size="7.2" fill="#1a1a1a" stroke="#1a1a1a" stroke-width="0.25" textLength="27.7" lengthAdjust="spacingAndGlyphs">Gamma</text>
<line x1="384.40" y1="226.2" x2="384.40" y2="269.4" stroke="#1874ca" stroke-width="1"/>
<line x1="384.40" y1="317.4" x2="384.40" y2="332.2" stroke="#1874ca" stroke-width="1"/>
<line x1="379.10" y1="226.2" x2="389.70" y2="226.2" stroke="#1874ca" stroke-width="1"/>
<line x1="379.10" y1="332.2" x2="389.70" y2="332.2" stroke="#1874ca" stroke-width="1"/>
<rect x="366" y="269.4" width="36.80" height="48.00" fill="#1874ca"/>
<line x1="366" y1="297.7" x2="402.8" y2="297.7" stroke="rgba(0,0,0,0.22)" stroke-width="1"/>
<path d="M382.40000000000003 291.6L386.8 296.0M382.40000000000003 296.0L386.8 291.6" stroke="rgba(0,0,0,0.25)" stroke-width="0.8"/>
<line x1="424.45" y1="250.2" x2="424.45" y2="291.8" stroke="#fd8024" stroke-width="1"/>
<line x1="424.45" y1="321.8" x2="424.45" y2="331.5" stroke="#fd8024" stroke-width="1"/>
<line x1="419.15" y1="250.2" x2="429.75" y2="250.2" stroke="#fd8024" stroke-width="1"/>
<line x1="419.15" y1="331.5" x2="429.75" y2="331.5" stroke="#fd8024" stroke-width="1"/>
<rect x="406.4" y="291.8" width="36.10" height="30.00" fill="#fd8024"/>
<line x1="406.4" y1="313.4" x2="442.5" y2="313.4" stroke="rgba(0,0,0,0.22)" stroke-width="1"/>
<path d="M422.2 303.6L426.59999999999997 308.0M422.2 308.0L426.59999999999997 303.6" stroke="rgba(0,0,0,0.25)" stroke-width="0.8"/>
<circle cx="424.4" cy="239" r="1.4" fill="#fd8024"/>
<circle cx="424.4" cy="243.6" r="1.4" fill="#fd8024"/>
<line x1="464.25" y1="239.6" x2="464.25" y2="290" stroke="#a6a6a6" stroke-width="1"/>
<line x1="464.25" y1="323.4" x2="464.25" y2="331.5" stroke="#a6a6a6" stroke-width="1"/>
<line x1="458.95" y1="239.6" x2="469.55" y2="239.6" stroke="#a6a6a6" stroke-width="1"/>
<line x1="458.95" y1="331.5" x2="469.55" y2="331.5" stroke="#a6a6a6" stroke-width="1"/>
<rect x="446.2" y="290.4" width="36.10" height="32.60" fill="#a6a6a6" stroke="#8a8a8a" stroke-width="0.8"/>
<line x1="445.8" y1="312.4" x2="482.7" y2="312.4" stroke="rgba(0,0,0,0.22)" stroke-width="1"/>
<path d="M462.0 302.3L466.4 306.7M462.0 306.7L466.4 302.3" stroke="rgba(0,0,0,0.25)" stroke-width="0.8"/>
<circle cx="464.2" cy="230.6" r="1.4" fill="#a6a6a6"/>
<circle cx="464.2" cy="232.6" r="1.4" fill="#a6a6a6"/>
<circle cx="464.2" cy="234.6" r="1.4" fill="#a6a6a6"/>
<circle cx="464.2" cy="237.6" r="1.4" fill="#a6a6a6"/>
<text x="477.2" y="233.9" font-size="7.7" fill="#1a1a1a" stroke="#1a1a1a" stroke-width="0.25" textLength="33.7" lengthAdjust="spacingAndGlyphs">P=0.0057</text>
<text x="477.2" y="244.4" font-size="7.7" fill="#1a1a1a" stroke="#1a1a1a" stroke-width="0.25" textLength="52.8" lengthAdjust="spacingAndGlyphs">(alpha vs beta)</text>
<text x="477.2" y="265.9" font-size="7.7" fill="#1a1a1a" stroke="#1a1a1a" stroke-width="0.25" textLength="24.5" lengthAdjust="spacingAndGlyphs">P=0.05</text>
<text x="477.2" y="276.4" font-size="7.7" fill="#1a1a1a" stroke="#1a1a1a" stroke-width="0.25" textLength="63" lengthAdjust="spacingAndGlyphs">(alpha vs gamma)</text>
</svg></body></html>
